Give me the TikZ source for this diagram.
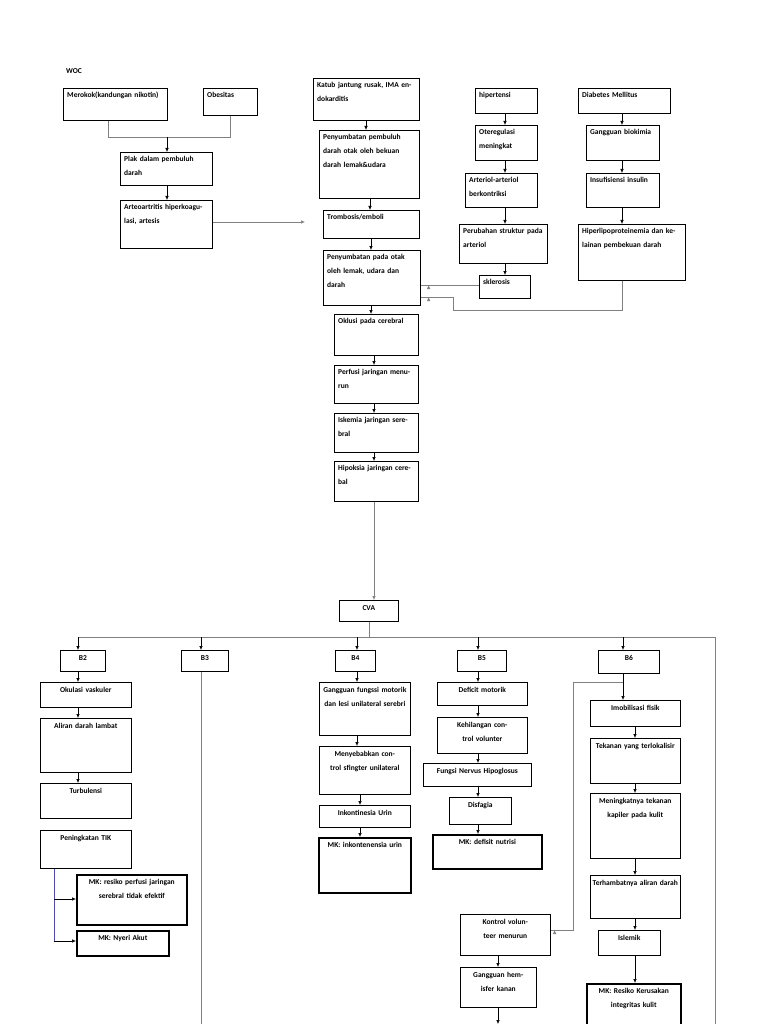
\documentclass[tikz,border=0pt]{standalone}
\usepackage{fontspec}
\setmainfont{Carlito}
\usetikzlibrary{arrows.meta,calc}
\tikzset{
  box/.style={draw, line width=0.6pt, inner sep=0pt},
  mkbox/.style={draw, line width=1.6pt, inner sep=0pt},
  arr/.style={-{Latex[length=4pt,width=3.5pt]}, line width=0.6pt},
  ln/.style={line width=0.6pt},
  txt/.style={font=\fontsize{7.5}{14}\selectfont\bfseries, inner sep=0pt}
}
% #1 style, #2 name, #3 x1, #4 y1, #5 x2, #6 y2, #7 text
\newcommand{\lbx}[7]{%
  \node[#1, minimum width={(#5-#3)*1pt}, minimum height={(#6-#4)*1pt}, anchor=north west] (#2) at (#3,#4) {};
  \node[txt, anchor=north west, text width={(#5-#3-8)*1pt}, align=left] at ($(#2.north west)+(4,4)$) {#7};}
\newcommand{\cbx}[7]{%
  \node[#1, minimum width={(#5-#3)*1pt}, minimum height={(#6-#4)*1pt}, anchor=north west] (#2) at (#3,#4) {};
  \node[txt, anchor=north, text width={(#5-#3-4)*1pt}, align=center] at ($(#2.north)+(0,5)$) {#7};}
\begin{document}
\begin{tikzpicture}[x=1pt,y=-1pt]
\useasboundingbox (0,0) rectangle (768,1024);
\node[txt, anchor=north west] (woc) at (66,68) {WOC};
% top left
\lbx{box}{mer}{63}{88}{167}{120}{Merokok(kandungan nikotin)}
\lbx{box}{obe}{203}{88}{257}{115}{Obesitas}
\lbx{box}{plak}{120}{152}{212}{185}{Plak dalam pembuluh darah}
\lbx{box}{arteo}{120}{200}{212}{248}{Arteoartritis hiperkoagulasi, artesis}
\draw[ln,gray] (mer.south -| 108,0) -- (108,137) -- (230,137) -- (obe.south -| 230,0);
\draw[arr] (167,137) -- (plak.north -| 167,0);
\draw[arr] (plak.south -| 167,0) -- (arteo.north -| 167,0);
\coordinate (tgt) at (305,222);
\draw[arr,gray] (arteo.east |- tgt) -- (tgt);
% middle column
\lbx{box}{katub}{313}{78}{419}{120}{Katub jantung rusak, IMA endokarditis}
\lbx{box}{peny1}{319}{130}{419}{198}{Penyumbatan pembuluh darah otak oleh bekuan darah lemak\&udara}
\lbx{box}{trom}{323}{210}{419}{238}{Trombosis/emboli}
\lbx{box}{peny2}{323}{250}{420}{305}{Penyumbatan pada otak oleh lemak, udara dan darah}
\lbx{box}{oklu}{334}{314}{418}{355}{Oklusi pada cerebral}
\lbx{box}{perf}{334}{365}{418}{403}{Perfusi jaringan menurun}
\lbx{box}{iske}{334}{413}{418}{452}{Iskemia jaringan serebral}
\lbx{box}{hipo}{334}{461}{418}{501}{Hipoksia jaringan cerebal}
\draw[arr] (katub.south -| 366,0) -- (peny1.north -| 366,0);
\draw[arr] (peny1.south -| 370,0) -- (trom.north -| 370,0);
\draw[arr] (trom.south -| 371,0) -- (peny2.north -| 371,0);
\draw[arr] (peny2.south -| 371,0) -- (oklu.north -| 371,0);
\draw[arr] (oklu.south -| 374,0) -- (perf.north -| 374,0);
\draw[arr] (perf.south -| 374,0) -- (iske.north -| 374,0);
\draw[arr] (iske.south -| 374,0) -- (hipo.north -| 374,0);
% right top
\lbx{box}{hip}{475}{88}{537}{113}{hipertensi}
\lbx{box}{otr}{475}{125}{537}{160}{Oteregulasi meningkat}
\lbx{box}{art}{465}{173}{537}{207}{Arteriol-arteriol berkontriksi}
\lbx{box}{peru}{459}{224}{547}{263}{Perubahan struktur pada arteriol}
\lbx{box}{skl}{479}{275}{530}{298}{sklerosis}
\lbx{box}{dm}{578}{88}{670}{113}{Diabetes Mellitus}
\lbx{box}{bio}{586}{125}{659}{160}{Gangguan biokimia}
\lbx{box}{ins}{586}{173}{659}{207}{Insufisiensi insulin}
\lbx{box}{hlp}{578}{224}{685}{280}{Hiperlipoproteinemia dan kelainan pembekuan darah}
\draw[arr] (hip.south -| 505,0) -- (otr.north -| 505,0);
\draw[arr] (otr.south -| 505,0) -- (art.north -| 505,0);
\draw[arr] (art.south -| 505,0) -- (peru.north -| 505,0);
\draw[arr] (peru.south -| 505,0) -- (skl.north -| 505,0);
\draw[arr] (dm.south -| 622,0) -- (bio.north -| 622,0);
\draw[arr] (bio.south -| 622,0) -- (ins.north -| 622,0);
\draw[arr] (ins.south -| 622,0) -- (hlp.north -| 622,0);
\draw[arr,gray] (skl.west |- 0,285) -- (peny2.east |- 0,285) ++(8,0);
\draw[arr,gray] (hlp.south -| 622,0) -- (622,310) -- (453,310) -- (453,297) -- (peny2.east |- 0,297) ++(8,0);
% CVA
\cbx{box}{cva}{339}{600}{398}{621}{CVA}
\draw[arr,gray] (hipo.south -| 374,0) -- (cva.north -| 374,0);
\draw[ln,gray] (cva.south -| 369,0) -- (369,637);
\draw[ln,gray] (78,637) -- (715,637) -- (715,1024);
\cbx{box}{b2}{60}{650}{105}{671}{B2}
\cbx{box}{b3}{181}{650}{228}{671}{B3}
\cbx{box}{b4}{335}{650}{375}{671}{B4}
\cbx{box}{b5}{457}{650}{506}{671}{B5}
\cbx{box}{b6}{598}{650}{659}{673}{B6}
\draw[arr] (78,637) -- (b2.north -| 78,0);
\draw[arr] (201,637) -- (b3.north -| 201,0);
\draw[arr] (357,637) -- (b4.north -| 357,0);
\draw[arr] (478,637) -- (b5.north -| 478,0);
\draw[arr] (623,637) -- (b6.north -| 623,0);
\draw[ln,gray] (b3.south -| 201,0) -- (201,1024);
% B2 column
\cbx{box}{okv}{40}{682}{131}{707}{Okulasi vaskuler}
\cbx{box}{ali}{40}{718}{131}{772}{Aliran darah lambat}
\cbx{box}{tur}{40}{783}{131}{818}{Turbulensi}
\cbx{box}{tik}{40}{830}{131}{868}{Peningkatan TIK}
\cbx{mkbox}{mk1}{76}{874}{186}{924}{MK: resiko perfusi jaringan serebral tidak efektif}
\cbx{mkbox}{mk2}{76}{930}{168}{955}{MK: Nyeri Akut}
\draw[arr] (b2.south -| 78,0) -- (okv.north -| 78,0);
\draw[arr] (okv.south -| 78,0) -- (ali.north -| 78,0);
\draw[arr] (ali.south -| 78,0) -- (tur.north -| 78,0);
\draw[ln,blue!40!gray] (tik.south -| 54,0) -- (54,941);
\draw[arr] (54,899) -- (mk1.west |- 0,899);
\draw[arr] (54,941) -- (mk2.west |- 0,941);
% B4 column
\cbx{box}{gfm}{319}{682}{410}{735}{Gangguan fungssi motorik dan lesi unilateral serebri}
\cbx{box}{mny}{319}{746}{410}{794}{Menyebabkan control sfingter unilateral}
\cbx{box}{ink}{319}{805}{410}{827}{Inkontinesia Urin}
\cbx{mkbox}{mk3}{318}{837}{410}{892}{MK: inkontenensia urin}
\draw[arr] (b4.south -| 357,0) -- (gfm.north -| 357,0);
\draw[arr] (gfm.south -| 357,0) -- (mny.north -| 357,0);
\draw[arr] (mny.south -| 360,0) -- (ink.north -| 360,0);
\draw[arr] (ink.south -| 360,0) -- (mk3.north -| 360,0);
% B5 column
\cbx{box}{def}{437}{682}{527}{705}{Deficit motorik}
\cbx{box}{keh}{437}{717}{527}{753}{Kehilangan control volunter}
\cbx{box}{fng}{423}{763}{531}{786}{Fungsi Nervus Hipoglosus}
\cbx{box}{dis}{449}{797}{511}{824}{Disfagia}
\cbx{mkbox}{mk4}{432}{834}{541}{868}{MK: defisit nutrisi}
\draw[arr] (b5.south -| 478,0) -- (def.north -| 478,0);
\draw[arr] (def.south -| 478,0) -- (keh.north -| 478,0);
\draw[arr] (keh.south -| 478,0) -- (fng.north -| 478,0);
\draw[arr] (fng.south -| 478,0) -- (dis.north -| 478,0);
\draw[arr] (dis.south -| 478,0) -- (mk4.north -| 478,0);
% B6 column
\cbx{box}{imo}{590}{700}{680}{726}{Imobilisasi fisik}
\cbx{box}{tek}{590}{738}{680}{783}{Tekanan yang terlokalisir}
\cbx{box}{men}{590}{793}{680}{858}{Meningkatnya tekanan kapiler pada kulit}
\cbx{box}{ter}{590}{875}{680}{918}{Terhambatnya aliran darah}
\cbx{box}{isl}{598}{930}{660}{955}{Islemik}
\cbx{mkbox}{mk5}{586}{983}{680}{1030}{MK: Resiko Kerusakan integritas kulit}
\cbx{box}{kon}{460}{914}{550}{955}{Kontrol volunteer menurun}
\cbx{box}{hem}{460}{967}{536}{1007}{Gangguan hemisfer kanan}
\draw[arr] (b6.south -| 623,0) -- (imo.north -| 623,0);
\draw[arr] (imo.south -| 635,0) -- (tek.north -| 635,0);
\draw[arr] (tek.south -| 635,0) -- (men.north -| 635,0);
\draw[arr] (men.south -| 635,0) -- (ter.north -| 635,0);
\draw[arr] (ter.south -| 635,0) -- (isl.north -| 635,0);
\draw[arr] (isl.south -| 635,0) -- (mk5.north -| 635,0);
\draw[arr,gray] (623,682) -- (573,682) -- (573,930) -- (kon.east |- 0,930) ++(4,0);
\draw[arr] (kon.south -| 498,0) -- (hem.north -| 498,0);
\coordinate (hend) at (498,1024);
\draw[arr] (hem.south -| 498,0) -- (hend);
\end{tikzpicture}
\end{document}
